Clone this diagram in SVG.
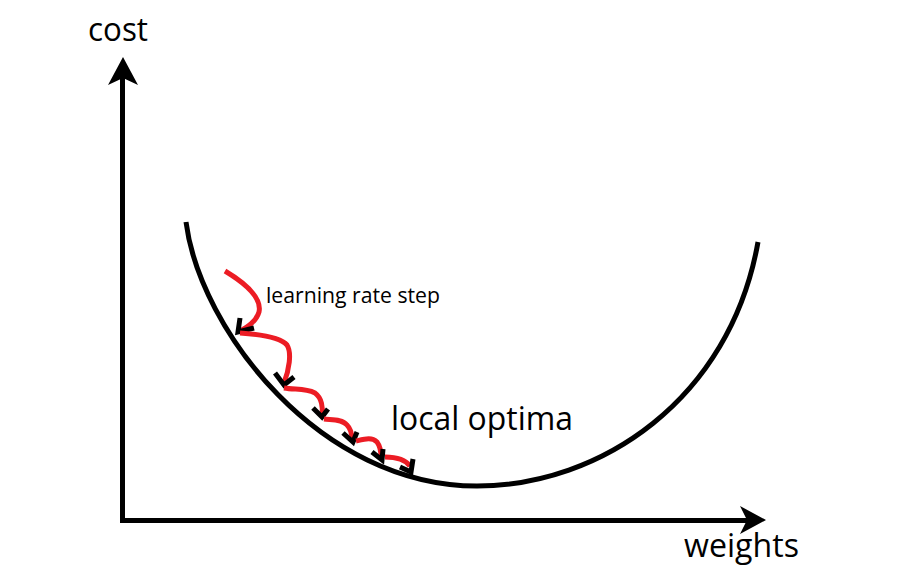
<svg xmlns="http://www.w3.org/2000/svg" width="917" height="580" viewBox="0 0 917 580">
  <style>
    .lbl { font-family: "Open Sans", "Liberation Sans", sans-serif; fill: #000; }
    .axis { stroke: #000; stroke-width: 5; fill: none; }
    .curve { stroke: #000; stroke-width: 5; fill: none; }
    .step { stroke: #ec1c24; stroke-width: 5; fill: none; stroke-linecap: butt; }
    .chev { stroke: #000; stroke-width: 5; fill: none; stroke-linejoin: miter; }
  </style>
  <rect width="917" height="580" fill="#fff"/>
  <g id="axes">
    <line class="axis" x1="122.5" y1="523" x2="122.5" y2="76"/>
    <polygon points="123,57 108,85 123,78 138,85" fill="#000"/>
    <line class="axis" x1="120" y1="520.5" x2="748" y2="520.5"/>
    <polygon points="766,520 740,506 747,520 740,534" fill="#000"/>
  </g>
  <g id="cost-curve">
    <path class="curve" d="M186,222 C200,330 320,486 477,486 C600,486 730,400 758,242"/>
  </g>
  <g id="connectors">
    <path class="step" d="M225,271 C245,283 262,298 259,312 C256,322 247,327 240,331"/>
    <path class="chev" d="M240,318 L238,332 L254,328"/>
    <path class="step" d="M240,333 C255,334 280,337 287,345 C292,353 289,370 284,383"/>
    <path class="chev" d="M275,373 L284,385 L294,377"/>
    <path class="step" d="M284,388 C295,390 305,388 315,393 C322,398 323,408 322,415"/>
    <path class="chev" d="M313,408 L322,417 L328,409"/>
    <path class="step" d="M324,419 C332,420 342,419 347,425 C352,430 352,436 352,440"/>
    <path class="chev" d="M343,433 L353,442 L357,432"/>
    <path class="step" d="M356,441 C365,439 372,437 377,442 C380,446 381,452 381,457"/>
    <path class="chev" d="M372,452 L382,460 L383,449"/>
    <path class="step" d="M385,457 C395,457 405,459 410,466"/>
    <path class="chev" d="M400,467 L411,472 L413,459"/>
  </g>
  <g id="labels">
    <text class="lbl" x="88" y="41" font-size="32" textLength="60" lengthAdjust="spacingAndGlyphs">cost</text>
    <text class="lbl" x="684" y="557" font-size="32" textLength="115" lengthAdjust="spacingAndGlyphs">weights</text>
    <text class="lbl" x="391" y="430" font-size="33" textLength="182" lengthAdjust="spacingAndGlyphs">local optima</text>
    <text class="lbl" x="266" y="303" font-size="22" textLength="174" lengthAdjust="spacingAndGlyphs">learning rate step</text>
  </g>
</svg>
